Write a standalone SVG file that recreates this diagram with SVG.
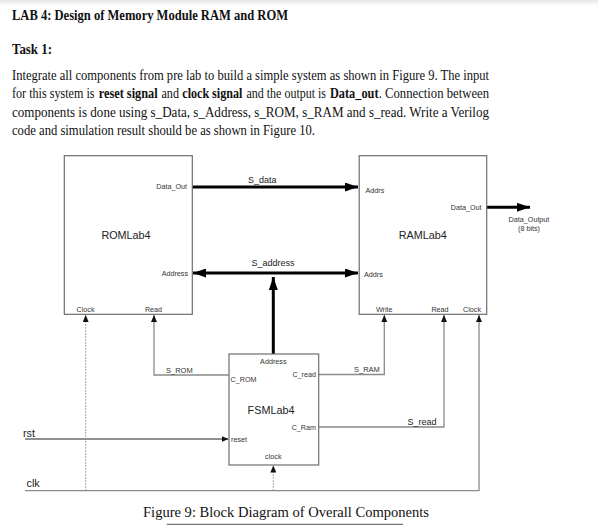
<svg xmlns="http://www.w3.org/2000/svg" width="598" height="525" viewBox="0 0 598 525">
<defs>
<linearGradient id="topShade" x1="0" y1="0" x2="0" y2="1">
<stop offset="0" stop-color="#e6e6e6"/>
<stop offset="1" stop-color="#ffffff"/>
</linearGradient>
<marker id="bigArrow" markerUnits="userSpaceOnUse" markerWidth="13" markerHeight="9" refX="13" refY="4.5" orient="auto-start-reverse">
<path d="M0,0 L13,4.5 L0,9 Z" fill="#000"/>
</marker>
<marker id="smallArrow" markerUnits="userSpaceOnUse" markerWidth="7" markerHeight="6" refX="7" refY="3" orient="auto">
<path d="M0,0 L7,3 L0,6 Z" fill="#111"/>
</marker>
<style>
.doc{font-family:"Liberation Serif","Times New Roman",serif;fill:#111;}
.b{font-weight:bold;}
.box{fill:#fff;stroke:#6e6e6e;stroke-width:1.2;}
.lbl{font-family:"Liberation Sans",Arial,sans-serif;font-size:7.2px;fill:#333;}
.name{font-family:"Liberation Sans",Arial,sans-serif;font-size:10.8px;fill:#222;}
.sig{font-family:"Liberation Sans",Arial,sans-serif;font-size:9px;fill:#222;}
.ssig{font-family:"Liberation Sans",Arial,sans-serif;font-size:7.5px;fill:#333;}
.thick{stroke:#000;stroke-width:3;fill:none;}
.thin{stroke:#8a8a8a;stroke-width:1.3;fill:none;}
.dot{stroke:#8a8a8a;stroke-width:1;fill:none;stroke-dasharray:1.5 1.5;}
.rst{stroke:#222;stroke-width:1.1;fill:none;}
</style>
</defs>
<rect x="0" y="0" width="598" height="525" fill="#fff"/>
<rect x="0" y="0" width="598" height="6" fill="url(#topShade)"/>

<g id="header">
<text class="doc b" x="12" y="19.5" font-size="14" textLength="276" lengthAdjust="spacingAndGlyphs">LAB 4: Design of Memory Module RAM and ROM</text>
<text class="doc b" x="12" y="53.5" font-size="14" textLength="40" lengthAdjust="spacingAndGlyphs">Task 1:</text>
<text class="doc" x="12" y="80" font-size="14" textLength="477" lengthAdjust="spacingAndGlyphs">Integrate all components from pre lab to build a simple system as shown in Figure 9.  The input</text>
<g transform="scale(0.875,1)">
<text class="doc" x="13.714" y="98.5" font-size="14" textLength="94.286" lengthAdjust="spacingAndGlyphs">for this system is</text>
<text class="doc b" x="112.8" y="98.5" font-size="14" textLength="67.429" lengthAdjust="spacingAndGlyphs">reset signal</text>
<text class="doc" x="184.571" y="98.5" font-size="14" textLength="20" lengthAdjust="spacingAndGlyphs">and</text>
<text class="doc b" x="208.343" y="98.5" font-size="14" textLength="68.571" lengthAdjust="spacingAndGlyphs">clock signal</text>
<text class="doc" x="281.714" y="98.5" font-size="14" textLength="90.857" lengthAdjust="spacingAndGlyphs">and the output is</text>
<text class="doc b" x="377.143" y="98.5" font-size="14" textLength="55.429" lengthAdjust="spacingAndGlyphs">Data_out</text>
<text class="doc" x="432.8" y="98.5" font-size="14" textLength="126.057" lengthAdjust="spacingAndGlyphs">. Connection between</text>
</g>
<text class="doc" x="12" y="117" font-size="14" textLength="477" lengthAdjust="spacingAndGlyphs">components is done using s_Data, s_Address, s_ROM, s_RAM and s_read. Write a Verilog</text>
<text class="doc" x="12" y="135" font-size="14" textLength="303" lengthAdjust="spacingAndGlyphs">code and simulation result should be as shown in Figure 10.</text>
</g>

<g id="connectors">
<line class="thick" x1="192" y1="187" x2="358" y2="187" marker-end="url(#bigArrow)"/>
<line class="thick" x1="193" y1="273" x2="358" y2="273" marker-start="url(#bigArrow)" marker-end="url(#bigArrow)"/>
<line class="thick" x1="273.3" y1="354" x2="273.3" y2="277" marker-end="url(#bigArrow)"/>
<line class="thick" x1="487" y1="207.3" x2="530" y2="207.3" marker-end="url(#bigArrow)"/>
<polyline class="thin" points="229,375 154,375 154,315" marker-end="url(#smallArrow)"/>
<polyline class="thin" points="318.7,374.5 384.3,374.5 384.3,315" marker-end="url(#smallArrow)"/>
<polyline class="thin" points="318.7,427 444,427 444,315" marker-end="url(#smallArrow)"/>
<line class="rst" x1="25" y1="439" x2="228.5" y2="439" marker-end="url(#smallArrow)"/>
<polyline class="thin" points="25,490.7 479,490.7 479,315" marker-end="url(#smallArrow)"/>
<line class="dot" x1="85.7" y1="490.7" x2="85.7" y2="315" marker-end="url(#smallArrow)"/>
<line class="dot" x1="273.3" y1="490.7" x2="273.3" y2="465.5" marker-end="url(#smallArrow)"/>
<text class="sig" x="248" y="183">S_data</text>
<text class="sig" x="251.5" y="266">S_address</text>
<text class="ssig" x="166" y="372.5">S_ROM</text>
<text class="ssig" x="354" y="372">S_RAM</text>
<text class="sig" x="407.5" y="424.5">S_read</text>
<text class="lbl" x="529" y="222" text-anchor="middle" font-size="6.5">Data_Output</text>
<text class="lbl" x="529" y="231" text-anchor="middle" font-size="6.5">(8 bits)</text>
<text class="name" x="23" y="437" font-size="11">rst</text>
<text class="name" x="26.5" y="487" font-size="11">clk</text>
</g>

<g id="ROMLab4">
<rect class="box" x="64.3" y="155.7" width="128" height="158.6"/>
<text class="lbl" x="187" y="189" text-anchor="end">Data_Out</text>
<text class="lbl" x="188" y="276" text-anchor="end">Address</text>
<text class="name" x="126" y="239" text-anchor="middle">ROMLab4</text>
<text class="lbl" x="85.5" y="312" text-anchor="middle">Clock</text>
<text class="lbl" x="153.5" y="312" text-anchor="middle">Read</text>
</g>

<g id="RAMLab4">
<rect class="box" x="359.2" y="155.7" width="127.5" height="158.6"/>
<text class="lbl" x="365.5" y="193">Addrs</text>
<text class="lbl" x="364" y="276.5">Addrs</text>
<text class="lbl" x="481.5" y="209.5" text-anchor="end">Data_Out</text>
<text class="name" x="422.7" y="239" text-anchor="middle">RAMLab4</text>
<text class="lbl" x="384.3" y="312" text-anchor="middle">Write</text>
<text class="lbl" x="440" y="312" text-anchor="middle">Read</text>
<text class="lbl" x="472" y="312" text-anchor="middle">Clock</text>
</g>

<g id="FSMLab4">
<rect class="box" x="229" y="354" width="89.7" height="111"/>
<text class="lbl" x="273.3" y="363.5" text-anchor="middle">Address</text>
<text class="lbl" x="230.5" y="381.5">C_ROM</text>
<text class="lbl" x="316" y="376.5" text-anchor="end">C_read</text>
<text class="name" x="271" y="414" text-anchor="middle" font-size="10.2">FSMLab4</text>
<text class="lbl" x="316" y="429.5" text-anchor="end">C_Ram</text>
<text class="lbl" x="231" y="442">reset</text>
<text class="lbl" x="273.3" y="458.5" text-anchor="middle">clock</text>
</g>

<g id="caption">
<text class="doc" x="143" y="517" font-size="14.5" textLength="286" lengthAdjust="spacingAndGlyphs">Figure 9: Block Diagram of Overall Components</text>
<line x1="166.7" y1="524.3" x2="403" y2="524.3" stroke="#555" stroke-width="1"/>
</g>
</svg>
